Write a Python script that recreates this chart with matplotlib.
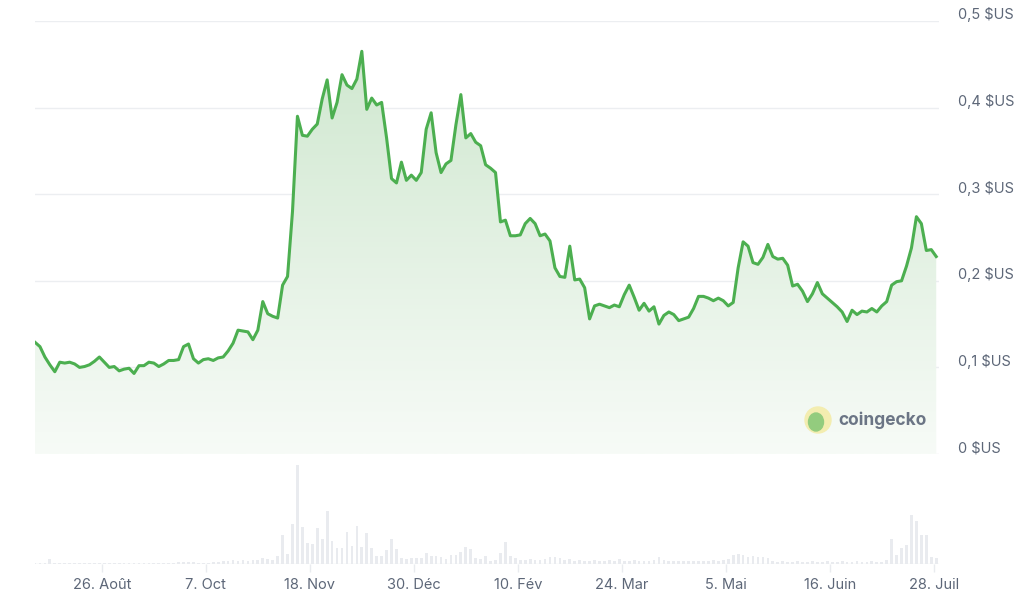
import numpy as np
import pandas as pd
import matplotlib
matplotlib.use('Agg')
import matplotlib.pyplot as plt
import matplotlib.dates as mdates
from matplotlib.colors import LinearSegmentedColormap
from matplotlib.patches import Polygon, Ellipse

plt.rcParams['font.family'] = ['Inter', 'DejaVu Sans']

# price in $US, one value every 2 days starting 30 July
start = '2024-07-30'
price = [
    .129, .124, .112, .103, .095, .106, .105, .106, .104, .100,
    .101, .103, .107, .112, .106, .100, .101, .096, .098, .099,
    .093, .102, .102, .106, .105, .101, .104, .108, .108, .109,
    .124, .127, .110, .105, .109, .110, .108, .111, .112, .119,
    .128, .143, .142, .141, .132, .143, .176, .162, .159, .157,
    .195, .205, .280, .390, .368, .367, .375, .381, .410, .432,
    .388, .406, .438, .426, .422, .433, .465, .398, .411, .403,
    .406, .365, .318, .313, .337, .316, .322, .316, .325, .375,
    .394, .348, .325, .335, .339, .380, .415, .365, .370, .360,
    .356, .334, .330, .325, .268, .270, .252, .252, .253, .266,
    .272, .266, .252, .254, .246, .215, .205, .204, .240, .201,
    .202, .192, .156, .171, .173, .171, .169, .172, .170, .184,
    .195, .181, .166, .174, .165, .170, .150, .160, .164, .161,
    .154, .156, .158, .168, .182, .182, .180, .177, .180, .177,
    .171, .175, .215, .245, .240, .221, .219, .227, .242, .228,
    .225, .226, .218, .194, .196, .188, .176, .185, .198, .185,
    .180, .175, .170, .164, .153, .166, .161, .165, .164, .168,
    .164, .171, .176, .195, .199, .200, .217, .238, .274, .266,
    .235, .236, .228,
]

# trading volume (M $US), same dates
volume = [
    1, 1, 1, 5, 1, 1, 1, 1, 1, 1,
    1, 1, 1, 1, 1, 1, 1, 1, 1, 1,
    1, 1, 1, 1, 1, 1, 1, 1, 1, 2,
    2, 2, 2, 1, 1, 1, 2, 2, 3, 3,
    4, 3, 4, 3, 4, 4, 6, 5, 4, 8,
    29, 10, 40, 99, 37, 21, 20, 36, 25, 53,
    23, 16, 16, 32, 18, 38, 17, 31, 16, 8,
    8, 14, 25, 15, 6, 5, 6, 6, 6, 11,
    8, 8, 7, 5, 9, 9, 12, 17, 15, 6,
    5, 8, 3, 4, 11, 22, 8, 6, 4, 4,
    5, 4, 4, 5, 7, 7, 6, 4, 5, 3,
    4, 3, 3, 4, 3, 3, 4, 3, 5, 3,
    3, 4, 3, 3, 3, 4, 7, 4, 3, 3,
    3, 3, 3, 3, 3, 3, 3, 4, 3, 4,
    5, 9, 10, 9, 7, 8, 7, 7, 6, 3,
    2, 3, 2, 2, 3, 2, 2, 3, 2, 2,
    3, 2, 2, 3, 2, 2, 3, 2, 2, 3,
    2, 2, 4, 25, 9, 16, 19, 49, 43, 29,
    29, 7, 6,
]

tick_dates = ['2024-08-26', '2024-10-07', '2024-11-18', '2024-12-30', '2025-02-10',
              '2025-03-24', '2025-05-05', '2025-06-16', '2025-07-28']
tick_labels = ['26. Août', '7. Oct', '18. Nov', '30. Déc', '10. Fév',
               '24. Mar', '5. Mai', '16. Juin', '28. Juil']
price_ticks = [0, 0.1, 0.2, 0.3, 0.4, 0.5]
price_labels = ['0 $US', '0,1 $US', '0,2 $US', '0,3 $US', '0,4 $US', '0,5 $US']

dates = pd.date_range(start, periods=len(price), freq='2D')
x = mdates.date2num(dates)
xmin = x[0]
xmax = mdates.date2num(pd.Timestamp(start) + pd.Timedelta(days=365))

W, H = 1024, 609
def box(x0, y0, x1, y1):
    return [x0 / W, 1 - y1 / H, (x1 - x0) / W, (y1 - y0) / H]

green = '#4caf50'
grid_c = '#eceef1'
text_c = '#5d6778'
vol_c = '#e9ebef'

fig = plt.figure(figsize=(W / 100, H / 100), dpi=100)
ax = fig.add_axes(box(35, 21, 938.7, 454))
axv = fig.add_axes(box(35, 465, 938.7, 564))

# price panel
for t in price_ticks:
    ax.axhline(t, color=grid_c, lw=1, zorder=0)

for t, lab in zip(price_ticks, price_labels):
    ax.annotate(lab, xy=(1, t), xycoords=('axes fraction', 'data'),
                xytext=(19, 6), textcoords='offset pixels',
                ha='left', va='center', fontsize=10.5, color=text_c,
                annotation_clip=False)

verts = np.column_stack([np.r_[x[0], x, x[-1]], np.r_[0, price, 0]])
clip = Polygon(verts, closed=True, fc='none', ec='none')
ax.add_patch(clip)
cmap = LinearSegmentedColormap.from_list('fillg', ['#f7fbf7', '#d0e8d0'])
grad = np.linspace(1, 0, 256).reshape(-1, 1)
im = ax.imshow(grad, cmap=cmap, aspect='auto', origin='upper',
               extent=[xmin, xmax, 0, max(price)], zorder=1)
im.set_clip_path(clip)

ax.plot(x, price, color=green, lw=2.2, solid_joinstyle='round', zorder=3)

ax.set_xlim(xmin, xmax)
ax.set_ylim(0, 0.5)
ax.axis('off')

# coingecko watermark
fig.add_artist(Ellipse((818 / W, 1 - 420 / H), 26 / W, 26 / H,
                       transform=fig.transFigure, color='#f3edb0', zorder=5))
fig.add_artist(Ellipse((816 / W, 1 - 422 / H), 15 / W, 18 / H,
                       transform=fig.transFigure, color='#93cc7e', zorder=6))
fig.text(838 / W, 1 - 420 / H, 'coingecko', fontsize=12.5, fontweight='bold',
         color='#6b7585', ha='left', va='center', zorder=6)

# volume panel
axv.bar(x, volume, width=1.1, color=vol_c, linewidth=0)
axv.axhline(0, color=vol_c, lw=1)
axv.set_xlim(xmin, xmax)
axv.set_ylim(0, max(volume))
axv.set_yticks([])
for s in axv.spines.values():
    s.set_visible(False)
axv.set_xticks(mdates.date2num(pd.to_datetime(tick_dates)))
axv.set_xticklabels(tick_labels)
axv.tick_params(axis='x', length=6, width=1, color=vol_c,
                labelcolor=text_c, labelsize=10.5, pad=4)

fig.savefig('out.png', dpi=100)
